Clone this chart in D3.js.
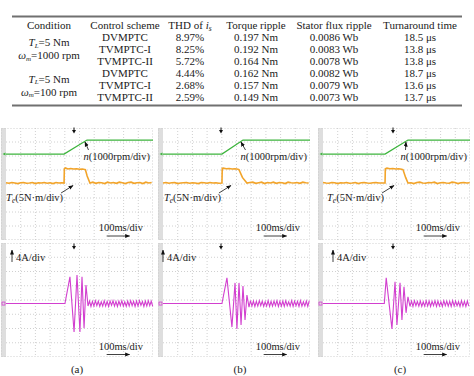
<!DOCTYPE html>
<html>
<head>
<meta charset="utf-8">
<script src="https://cdn.jsdelivr.net/npm/d3@7"></script>
<style>
  body { margin: 0; background: #fff; }
</style>
</head>
<body>
<div id="chart"></div>
<script>
// ---------- table data ----------
const schemes = ["DVMPTC", "TVMPTC-I", "TVMPTC-II", "DVMPTC", "TVMPTC-I", "TVMPTC-II"];
const thd = ["8.97%", "8.25%", "5.72%", "4.44%", "2.68%", "2.59%"];
const torqueRipple = ["0.197 Nm", "0.192 Nm", "0.164 Nm", "0.162 Nm", "0.157 Nm", "0.149 Nm"];
const fluxRipple = ["0.0086 Wb", "0.0083 Wb", "0.0078 Wb", "0.0082 Wb", "0.0079 Wb", "0.0073 Wb"];
const turnaround = ["18.5 μs", "13.8 μs", "13.8 μs", "18.7 μs", "13.6 μs", "13.7 μs"];
const loads = ["5 Nm", "5 Nm"];
const speeds = ["1000 rpm", "100 rpm"];

// ---------- scope traces (time in ms, 100 ms/div) ----------
const panelNames = ["(a)", "(b)", "(c)"];
const sampleStep = 10;      // current tails, ms
const torqueStep = 20;      // torque noise, ms

// speed n (rpm)
const speedA = [[0, 0], [395, 0], [551, 1000], [1000, 1000]];
const speedB = [[0, 0], [401, 0], [544, 1000], [1000, 1000]];
const speedC = [[0, 0], [422, 0], [578, 1000], [1000, 1000]];

// torque Te (N·m): noise before the step, the step itself, noise after
const torqueHeadA = [0.1, -0.1, 0.2, 0, -0.2, 0.1, 0.2, -0.1, 0, 0.2, -0.2, 0.1, 0, 0.2, -0.1, 0.1, -0.2, 0.2, 0, 0.1];
const torqueHeadB = [0, 0.2, -0.1, 0.1, 0.2, -0.2, 0, 0.1, 0.2, -0.1, 0.1, 0, -0.2, 0.2, 0.1, -0.1, 0.2, 0, 0.1, -0.1];
const torqueHeadC = [0.2, 0, -0.1, 0.2, 0.1, -0.2, 0.1, 0, 0.2, -0.1, 0, 0.2, -0.2, 0.1, 0.2, 0, -0.1, 0.1, 0.2, 0];
const torqueA = [[395, 0], [397, 5.1], [405, 5.4], [420, 5.0], [440, 5.2], [460, 5.0], [480, 5.1], [500, 4.9], [520, 5.0], [540, 4.8], [552, 2.5], [571, 0]];
const torqueB = [[401, 0], [403, 5.2], [410, 5.3], [430, 5.1], [450, 5.2], [470, 5.0], [490, 5.1], [510, 4.9], [517, 4.8], [540, 2.0], [571, 0]];
const torqueC = [[422, 0], [424, 5.1], [435, 5.3], [455, 5.1], [475, 5.2], [495, 5.0], [515, 5.1], [535, 4.9], [544, 4.8], [562, 2.0], [578, 0]];
const torqueTailA = [0.3, -0.1, 0.2, 0.1, -0.2, 0.3, 0, 0.2, -0.1, 0.3, 0.1, -0.2, 0.2, 0.3, -0.1, 0.1, 0.2, -0.2, 0.3, 0, 0.2];
const torqueTailB = [0.2, 0.3, -0.1, 0.1, 0.3, -0.2, 0.2, 0, 0.3, -0.1, 0.2, 0.1, -0.2, 0.3, 0.1, 0, 0.2, -0.1, 0.3, 0.1, 0];
const torqueTailC = [0.1, -0.2, 0.2, 0.3, 0, -0.1, 0.2, 0.1, 0.3, -0.2, 0.1, 0.2, 0, -0.1, 0.3, 0.2, -0.2, 0.1, 0.2, 0, 0.1];

// phase current (A): burst during acceleration, then ripple
const currentA = [[0, 0], [401, 0], [435, 7.5], [463, -8.0], [483, 8.0], [503, -8.0], [517, 7.5], [531, -6.9], [544, 5.2], [558, -0.7]];
const currentB = [[0, 0], [401, 0], [435, 7.2], [469, -6.6], [490, 5.8], [503, -7.1], [517, 5.8], [531, -6.0], [544, 4.9], [558, -4.6], [571, 2.4], [585, -1.0]];
const currentC = [[0, 0], [417, 0], [430, 7.2], [469, -7.1], [490, 6.1], [503, -6.0], [524, 5.8], [537, -4.6], [551, 4.7], [565, -2.6], [578, 1.9], [592, -0.8]];
const currentTailA = [0.7, -0.8, 0.6, -0.7, 0.8, -0.6, 0.7, -0.8, 0.5, -0.7, 0.8, -0.7, 0.6, -0.8, 0.7, -0.5, 0.8, -0.7, 0.6, -0.8, 0.7, -0.6, 0.8, -0.7, 0.5, -0.8, 0.7, -0.7, 0.8, -0.6, 0.6, -0.8, 0.7, -0.7, 0.8, -0.5, 0.6, -0.8, 0.7, -0.7, 0.8, -0.6, 0.7, -0.8];
const currentTailB = [0.8, -0.7, 0.7, -0.8, 0.6, -0.7, 0.8, -0.6, 0.7, -0.8, 0.5, -0.7, 0.8, -0.8, 0.6, -0.7, 0.7, -0.6, 0.8, -0.8, 0.6, -0.7, 0.7, -0.8, 0.8, -0.6, 0.5, -0.7, 0.8, -0.8, 0.7, -0.6, 0.6, -0.8, 0.8, -0.7, 0.5, -0.7, 0.7, -0.8, 0.8];
const currentTailC = [0.7, -0.8, 0.8, -0.6, 0.6, -0.7, 0.7, -0.8, 0.5, -0.7, 0.8, -0.7, 0.7, -0.8, 0.6, -0.6, 0.8, -0.8, 0.7, -0.7, 0.5, -0.8, 0.8, -0.6, 0.7, -0.7, 0.6, -0.8, 0.8, -0.7, 0.7, -0.6, 0.5, -0.8, 0.8, -0.7, 0.6, -0.8, 0.7, -0.7];

// scope channel settings: units per division and trace offset (div)
const speedPerDiv = 1000, speedOffset = 2.14;
const torquePerDiv = 5, torqueOffset = 0.07;
const currentPerDiv = 4, currentOffset = -0.25;

const scopes = [
  {speed: speedA, torqueHead: torqueHeadA, torque: torqueA, torqueTail: torqueTailA, current: currentA, currentTail: currentTailA},
  {speed: speedB, torqueHead: torqueHeadB, torque: torqueB, torqueTail: torqueTailB, current: currentB, currentTail: currentTailB},
  {speed: speedC, torqueHead: torqueHeadC, torque: torqueC, torqueTail: torqueTailC, current: currentC, currentTail: currentTailC}
];

// ---------- layout ----------
const W = 474, H = 376;
const panelLeft = [1, 158, 318], panelW = 152, stripeW = 5;
const topY0 = 128, topY1 = 240, botY0 = 243, botY1 = 357;
const ampLabelX = [12, 163, 333];
const trigX = [74, 221, 393];
const captionX = [77, 240, 400];
// "Liberation Serif" by name falls back to sans here; the Times alias resolves to it
const serif = '"Times New Roman", Times, serif';

const svg = d3.select("#chart").append("svg")
    .attr("width", W)
    .attr("height", H)
    .attr("font-family", serif)
    .style("display", "block");

svg.append("defs").append("marker")
    .attr("id", "ah")
    .attr("viewBox", "0 0 10 10")
    .attr("refX", 9).attr("refY", 5)
    .attr("markerUnits", "userSpaceOnUse")
    .attr("markerWidth", 5).attr("markerHeight", 5)
    .attr("orient", "auto")
    .append("path").attr("d", "M0,1L10,5L0,9Z").attr("fill", "#111");

// ---------- table ----------
const colX = [49, 125, 190, 256, 334, 420];
const rowY = [37, 49, 61, 73.5, 85.5, 97.5];
const tbl = svg.append("g")
    .attr("font-size", 11)
    .attr("text-anchor", "middle")
    .attr("fill", "#1a1a1a");

tbl.append("line").attr("x1", 12).attr("x2", 462).attr("y1", 16.5).attr("y2", 16.5)
    .attr("stroke", "#707070").attr("stroke-width", 2);
tbl.append("line").attr("x1", 12).attr("x2", 462).attr("y1", 105.5).attr("y2", 105.5)
    .attr("stroke", "#707070").attr("stroke-width", 2);

const header = ["Condition", "Control scheme", null, "Torque ripple", "Stator flux ripple", "Turnaround time"];
header.forEach(function(h, i) {
    let t = tbl.append("text").attr("x", colX[i]).attr("y", 25).attr("dy", "0.35em");
    if (h) { t.text(h); return; }
    t.append("tspan").text("THD of ");
    t.append("tspan").attr("font-style", "italic").text("i");
    t.append("tspan").attr("font-size", 7.5).attr("font-style", "italic").attr("dy", 2).text("s");
});

[schemes, thd, torqueRipple, fluxRipple, turnaround].forEach(function(col, c) {
    col.forEach(function(v, r) {
        tbl.append("text").attr("x", colX[c + 1]).attr("y", rowY[r]).attr("dy", "0.35em").text(v);
    });
});

loads.forEach(function(load, g) {
    let mid = (rowY[g * 3] + rowY[g * 3 + 2]) / 2;
    let t1 = tbl.append("text").attr("x", colX[0]).attr("y", mid - 6.5).attr("dy", "0.35em");
    t1.append("tspan").attr("font-style", "italic").text("T");
    t1.append("tspan").attr("font-style", "italic").attr("font-size", 7).attr("dy", 1.5).text("L");
    t1.append("tspan").attr("dy", -1.5).text("=" + load);
    let t2 = tbl.append("text").attr("x", colX[0]).attr("y", mid + 6.5).attr("dy", "0.35em");
    t2.append("tspan").attr("font-style", "italic").text("ω");
    t2.append("tspan").attr("font-style", "italic").attr("font-size", 7).attr("dy", 1.5).text("m");
    t2.append("tspan").attr("dy", -1.5).text("=" + speeds[g]);
});

// ---------- scope panels ----------
function withNoise(head, step, main, tail, tailStep) {
    let pts = head.map(function(v, k) { return [k * step, v]; }).concat(main);
    let t0 = main[main.length - 1][0];
    tail.forEach(function(v, k) {
        let t = t0 + (k + 1) * tailStep;
        if (t <= 1000) pts.push([t, v]);
    });
    return pts;
}

function arrow(g, x1, y1, x2, y2) {
    g.append("line").attr("x1", x1).attr("y1", y1).attr("x2", x2).attr("y2", y2)
        .attr("stroke", "#111").attr("stroke-width", 0.8).attr("marker-end", "url(#ah)");
}

function trigger(g, x, y) {
    g.append("path").attr("d", `M${x - 2},${y - 1}L${x + 2},${y - 1}L${x},${y + 2.5}Z`).attr("fill", "#111");
    g.append("line").attr("x1", x).attr("x2", x).attr("y1", y - 3.5).attr("y2", y).attr("stroke", "#111");
}

function frame(g, L, y0, y1, x, y) {
    g.append("rect").attr("x", L).attr("y", y0).attr("width", stripeW).attr("height", y1 - y0)
        .attr("fill", "#dedede");
    let grid = g.append("g").attr("stroke", "#c4c4c4").attr("stroke-width", 0.8)
        .attr("stroke-dasharray", "1,2");
    d3.range(1, 10).forEach(function(k) {
        grid.append("line").attr("x1", x(k * 100)).attr("x2", x(k * 100)).attr("y1", y0).attr("y2", y1);
    });
    d3.range(-3, 4).forEach(function(k) {
        grid.append("line").attr("x1", x(0)).attr("x2", x(1000)).attr("y1", y(k)).attr("y2", y(k));
    });
    grid.append("rect").attr("x", L + 0.5).attr("y", y0 + 0.5)
        .attr("width", panelW - 1).attr("height", y1 - y0 - 1).attr("fill", "none");
}

scopes.forEach(function(s, i) {
    let L = panelLeft[i];
    let g = svg.append("g").attr("font-size", 10.5).attr("fill", "#1a1a1a");
    let x = d3.scaleLinear().domain([0, 1000]).range([L + stripeW, L + panelW]);
    let yTop = d3.scaleLinear().domain([-4, 4]).range([topY1, topY0]);
    let yBot = d3.scaleLinear().domain([-4, 4]).range([botY1, botY0]);

    frame(g, L, topY0, topY1, x, yTop);
    frame(g, L, botY0, botY1, x, yBot);

    let speedLine = d3.line().x(d => x(d[0])).y(d => yTop(d[1] / speedPerDiv + speedOffset));
    let torqueLine = d3.line().x(d => x(d[0])).y(d => yTop(d[1] / torquePerDiv + torqueOffset));
    let currentLine = d3.line().x(d => x(d[0])).y(d => yBot(d[1] / currentPerDiv + currentOffset));

    g.append("path").attr("d", torqueLine(withNoise(s.torqueHead, torqueStep, s.torque, s.torqueTail, torqueStep)))
        .attr("fill", "none").attr("stroke", "#f2a42a").attr("stroke-width", 1.6);
    g.append("path").attr("d", speedLine(s.speed))
        .attr("fill", "none").attr("stroke", "#3cb43c").attr("stroke-width", 1.3);
    g.append("path").attr("d", currentLine(withNoise([], sampleStep, s.current, s.currentTail, sampleStep)))
        .attr("fill", "none").attr("stroke", "#d23fcf").attr("stroke-width", 1.1);

    // channel ground markers
    let yn = yTop(speedOffset);
    g.append("path").attr("d", `M${L + 1.5},${yn}L${L + 4.5},${yn - 1.5}L${L + 4.5},${yn + 1.5}Z`).attr("fill", "#3cb43c");
    let yi = yBot(currentOffset);
    g.append("rect").attr("x", L + 1).attr("y", yi - 1.5).attr("width", 3).attr("height", 3)
        .attr("fill", "none").attr("stroke", "#d23fcf").attr("stroke-width", 0.8);

    trigger(g, trigX[i], topY0 + 3);
    trigger(g, trigX[i], botY0 + 4);

    // speed label
    let tStep = s.speed[1][0], tEnd = s.speed[2][0];
    let nt = g.append("text").attr("x", L + panelW - 3).attr("y", 160).attr("text-anchor", "end");
    nt.append("tspan").attr("font-style", "italic").text("n");
    nt.append("tspan").text("(1000rpm/div)");
    let nLeft = L + panelW - 3 - nt.node().getComputedTextLength();
    arrow(g, nLeft + 5, 150, x(tEnd) - 2, yTop(1000 / speedPerDiv + speedOffset) + 2);

    // torque label
    let te = g.append("text").attr("x", x(tStep) - 1).attr("y", 201).attr("text-anchor", "end");
    te.append("tspan").attr("font-style", "italic").text("T");
    te.append("tspan").attr("font-style", "italic").attr("font-size", 7.5).attr("dy", 2).text("e");
    te.append("tspan").attr("dy", -2).text("(5N·m/div)");
    arrow(g, x(tStep) - 3, 193, x(tStep) + 9, 185.5);

    // time base labels
    [[topY1 - 9, topY1 - 4], [botY1 - 7, botY1 - 2.5]].forEach(function(p) {
        let tb = g.append("text").attr("x", L + panelW - 10).attr("y", p[0]).attr("text-anchor", "end")
            .text("100ms/div");
        let left = L + panelW - 10 - tb.node().getComputedTextLength();
        arrow(g, left + 8, p[1], left + 31, p[1]);
    });

    // current scale label
    arrow(g, ampLabelX[i], 262, ampLabelX[i], 250);
    g.append("text").attr("x", ampLabelX[i] + 4).attr("y", 260.5).text("4A/div");

    svg.append("text").attr("x", captionX[i]).attr("y", 373).attr("text-anchor", "middle")
        .attr("font-size", 11).attr("fill", "#1a1a1a").text(panelNames[i]);
});
</script>
</body>
</html>
